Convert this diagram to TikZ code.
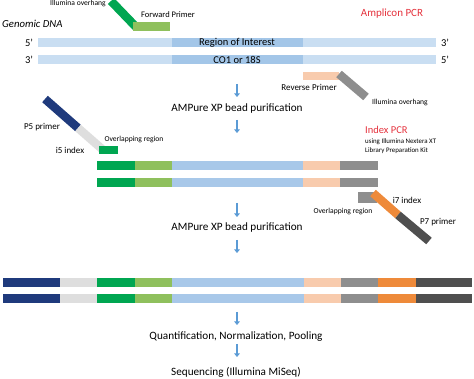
\documentclass[tikz,border=0pt]{standalone}
\usepackage{fontspec}
\setmainfont{Carlito}
\usetikzlibrary{arrows.meta}

\definecolor{strandblue}{HTML}{C9DEF2}
\definecolor{roiblue}{HTML}{A3C6E8}
\definecolor{ampblue}{HTML}{A8C8E9}
\definecolor{darkgreen}{HTML}{00A651}
\definecolor{lightgreen}{HTML}{8FC05D}
\definecolor{peach}{HTML}{F8CBAD}
\definecolor{midgray}{HTML}{8E8E8E}
\definecolor{indexorange}{HTML}{EE8A3A}
\definecolor{p7gray}{HTML}{4F4F4F}
\definecolor{p5navy}{HTML}{1F3A7C}
\definecolor{i5gray}{HTML}{DEDEDE}
\definecolor{pcrred}{HTML}{E4313C}
\definecolor{flowblue}{HTML}{5B9BD5}

\tikzset{
    flow/.style={draw=flowblue, line width=1.6pt, -{Triangle[length=3.5pt,width=5.5pt]}},
    steptext/.style={inner sep=0pt, font=\fontsize{11.2}{13}\selectfont},
    strandtext/.style={inner sep=0pt, font=\fontsize{10.5}{12}\selectfont},
    primertext/.style={inner sep=0pt, font=\fontsize{9}{10}\selectfont},
    smalltext/.style={inner sep=0pt, font=\fontsize{7.6}{9}\selectfont},
    kittext/.style={inner sep=0pt, font=\fontsize{6.9}{8.5}\selectfont},
    pcrtitle/.style={inner sep=0pt, text=pcrred, font=\fontsize{10.5}{12}\selectfont},
    oligo/.style={line width=8.5pt}
}

\begin{document}
\begin{tikzpicture}[x=1pt, y=-1pt]
        \useasboundingbox (0,0) rectangle (474,379);
        % Draw forward primer
        \draw [oligo, darkgreen] (111,1) -- (137,28);
        \fill [lightgreen] (133,22) rectangle (170,31);
        \node [smalltext] (ovhf) at (78,4) {Illumina overhang};
        \node [primertext, font=\fontsize{8.5}{10}\selectfont] (fwd) at (168,15) {Forward Primer};
        \node [inner sep=0pt, anchor=west, font=\fontsize{10.7}{12}\selectfont\itshape] (gdna) at (2,24) {Genomic DNA};
        \node [pcrtitle, font=\fontsize{11}{12}\selectfont] (amppcr) at (392,14) {Amplicon PCR};
        % Draw genomic strands
        \foreach \ya/\yb in {38/47, 55/64} {
            \fill [strandblue] (38,\ya) rectangle (436,\yb);
            \fill [roiblue] (172,\ya) rectangle (303,\yb);
        }
        \node [strandtext] (ltop) at (29,43) {5'};
        \node [strandtext] (lbot) at (29,60) {3'};
        \node [strandtext] (rtop) at (445,43) {3'};
        \node [strandtext] (rbot) at (445,60) {5'};
        \node [strandtext] (roi) at (237,43) {Region of Interest};
        \node [strandtext] (gene) at (237,60) {CO1 or 18S};
        % Draw reverse primer
        \fill [peach] (303,72) rectangle (339,80);
        \draw [oligo, midgray] (339,74) -- (366,97);
        \node [primertext] (rev) at (309,87) {Reverse Primer};
        \node [smalltext] (ovhr) at (400,103) {Illumina overhang};
        % First purification
        \coordinate (a1s) at (237,84);
        \coordinate (a1e) at (237,97);
        \node [steptext] (pur1) at (237,109) {AMPure XP bead purification};
        \coordinate (a2s) at (237,120);
        \coordinate (a2e) at (237,133);
        \draw [flow] (a1s) -- (a1e);
        \draw [flow] (a2s) -- (a2e);
        % Draw P5 primer
        \draw [oligo, p5navy] (45,99) -- (78,128);
        \draw [oligo, i5gray] (78,128) -- (102,149);
        \fill [darkgreen] (99,146) rectangle (118,154);
        \node [primertext] (p5) at (42,127) {P5 primer};
        \node [primertext] (i5) at (70,150) {i5 index};
        \node [smalltext] (ovl5) at (134,140) {Overlapping region};
        % Index PCR text
        \node [pcrtitle, anchor=west] (idxpcr) at (365,130) {Index PCR};
        \node [kittext, anchor=west] (kit1) at (365,142) {using Illumina Nextera XT};
        \node [kittext, anchor=west] (kit2) at (365,151) {Library Preparation Kit};
        % Draw amplicons
        \foreach \ya/\yb in {161/170, 178/187} {
            \foreach \xa/\xb/\col in {97/135/darkgreen, 135/172/lightgreen, 172/303/ampblue, 303/340/peach, 340/378/midgray} {
                \fill [\col] (\xa,\ya) rectangle (\xb,\yb);
            }
        }
        % Draw P7 primer
        \fill [midgray] (358,192) rectangle (377,203);
        \draw [oligo, indexorange] (373,193) -- (398,215);
        \draw [oligo, p7gray] (398,215) -- (429,241);
        \node [primertext] (i7) at (407,200) {i7 index};
        \node [smalltext] (ovl7) at (343,212) {Overlapping region};
        \node [primertext] (p7) at (438,222) {P7 primer};
        % Second purification
        \coordinate (a3s) at (237,203);
        \coordinate (a3e) at (237,217);
        \node [steptext] (pur2) at (237,228) {AMPure XP bead purification};
        \coordinate (a4s) at (237,240);
        \coordinate (a4e) at (237,253);
        \draw [flow] (a3s) -- (a3e);
        \draw [flow] (a4s) -- (a4e);
        % Draw libraries
        \foreach \ya/\yb in {278/287, 294/303} {
            \foreach \xa/\xb/\col in {3/60/p5navy, 60/97/i5gray, 97/135/darkgreen, 135/172/lightgreen, 172/304/ampblue, 304/341/peach, 341/378/midgray, 378/416/indexorange, 416/472/p7gray} {
                \fill [\col] (\xa,\ya) rectangle (\xb,\yb);
            }
        }
        % Pooling and sequencing
        \coordinate (a5s) at (237,312);
        \coordinate (a5e) at (237,325);
        \node [steptext] (pool) at (236,337) {Quantification, Normalization, Pooling};
        \coordinate (a6s) at (237,344);
        \coordinate (a6e) at (237,357);
        \node [steptext] (seq) at (236,372) {Sequencing (Illumina MiSeq)};
        \draw [flow] (a5s) -- (a5e);
        \draw [flow] (a6s) -- (a6e);
\end{tikzpicture}
\end{document}
